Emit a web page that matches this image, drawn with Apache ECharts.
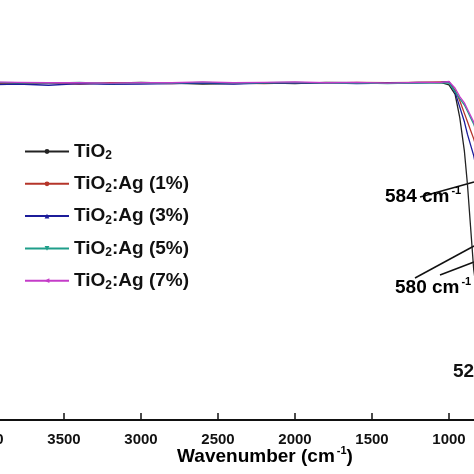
<!DOCTYPE html>
<html>
<head>
<meta charset="utf-8">
<script src="https://cdn.jsdelivr.net/npm/echarts@6/dist/echarts.min.js"></script>
<style>html,body{margin:0;padding:0;background:#fff;overflow:hidden;width:474px;height:474px}#chart{position:absolute;left:-13px;top:0;width:600px;height:474px}</style>
</head>
<body>
<div id="chart"></div>
<script>
// 波数 (cm-1)
const wavenumbers = [4000, 3800, 3600, 3400, 3200, 3000, 2800, 2600, 2400, 2200, 2000, 1800, 1600, 1400, 1200, 1050, 1000, 960, 930, 900, 880, 860, 840, 800, 700, 584]
const seriesNames = ['TiO2', 'TiO2:Ag (1%)', 'TiO2:Ag (3%)', 'TiO2:Ag (5%)', 'TiO2:Ag (7%)']
const tio2   = [80.2, 80.0, 80.3, 80.1, 80.2, 80.4, 80.2, 80.0, 80.1, 80.3, 80.1, 80.4, 80.3, 80.2, 80.4, 80.3, 79.8, 77.5, 72, 64, 56, 46, 36, 25, 15, 10]
const ag1    = [80.3, 80.1, 80.2, 80.0, 80.3, 80.2, 80.1, 80.3, 80.2, 80.1, 80.3, 80.2, 80.4, 80.3, 80.4, 80.5, 80.5, 78.5, 76, 73, 71, 69, 67, 62, 40, 20]
const ag3    = [79.8, 80.0, 79.7, 80.1, 79.9, 80.0, 80.1, 80.2, 80.0, 80.2, 80.2, 80.3, 80.1, 80.2, 80.3, 80.4, 80.5, 78, 74.5, 71, 68, 65.5, 63, 56, 35, 18]
const ag5    = [80.4, 80.3, 80.2, 80.4, 80.1, 80.2, 80.2, 80.4, 80.2, 80.3, 80.4, 80.2, 80.3, 80.1, 80.3, 80.3, 80.2, 78.2, 76.5, 75, 73.5, 72, 70.5, 66, 45, 25]
const ag7    = [80.5, 80.4, 80.3, 80.3, 80.2, 80.3, 80.3, 80.5, 80.3, 80.4, 80.5, 80.3, 80.4, 80.2, 80.4, 80.4, 80.6, 79, 77, 75.5, 74, 72.5, 71, 66.5, 46, 26]
const colors = ['#222222', '#b5352a', '#1c1c9a', '#1f9e8a', '#c43cc8']
const symbols = ['circle', 'circle', 'triangle', 'path://M0,0 L10,0 L5,10 Z', 'path://M0,5 L10,0 L10,10 Z']

let chart = echarts.init(document.getElementById('chart'))
let allData = [tio2, ag1, ag3, ag5, ag7]

let txt = {
    n: {fontFamily: 'Arial', fontWeight: 'bold', fontSize: 19, color: '#111'},
    sup: {fontFamily: 'Arial', fontWeight: 'bold', fontSize: 11, color: '#111', verticalAlign: 'top', padding: [0, 0, 12, 2]}
}
// 页面坐标 -> 图表坐标 (div 偏移 13px)
let px = x => x + 13

let option = {
    animation: false,
    grid: {left: 0, right: 61, top: 0, bottom: 54, outerBoundsMode: 'none', containLabel: false},
    legend: {
        orient: 'vertical',
        left: px(19), top: 137,
        itemGap: 12.3,
        itemWidth: 44, itemHeight: 6,
        data: seriesNames,
        formatter: name => name.replace('TiO2', '{t|TiO}{s|2}'),
        textStyle: {
            rich: {
                t: {fontFamily: 'Arial', fontWeight: 'bold', fontSize: 19, color: '#111'},
                s: {fontFamily: 'Arial', fontWeight: 'bold', fontSize: 12, color: '#111', verticalAlign: 'bottom', padding: [9, 0, 0, 0]}
            },
            fontFamily: 'Arial', fontWeight: 'bold', fontSize: 19, color: '#111'
        }
    },
    xAxis: {
        type: 'value', inverse: true, min: 500, max: 4000, interval: 500,
        axisLine: {lineStyle: {color: '#111', width: 2}},
        axisTick: {inside: true, length: 7, lineStyle: {width: 1.5}},
        splitLine: {show: false},
        axisLabel: {fontFamily: 'Arial', fontWeight: 'bold', fontSize: 15, color: '#111', margin: 12, formatter: v => String(v)}
    },
    yAxis: {type: 'value', min: 0, max: 100, show: false},
    series: allData.map((d, i) => ({
        name: seriesNames[i],
        type: 'line',
        data: wavenumbers.map((w, j) => [w, d[j]]),
        showSymbol: false,
        symbol: symbols[i],
        symbolSize: 6,
        color: colors[i],
        lineStyle: {width: 1.3}
    })),
    graphic: [
        {type: 'text', x: px(265), y: 457, style: {text: '{n|Wavenumber (cm}{sup|-1}{n|)}', rich: txt, align: 'center', verticalAlign: 'middle'}},
        {type: 'line', shape: {x1: px(420), y1: 197, x2: px(474), y2: 182}, style: {stroke: '#111', lineWidth: 1.5}},
        {type: 'text', x: px(385), y: 185, style: {text: '{n|584 cm}{sup|-1}', rich: txt}},
        {type: 'line', shape: {x1: px(415), y1: 278, x2: px(474), y2: 246}, style: {stroke: '#111', lineWidth: 1.5}},
        {type: 'line', shape: {x1: px(440), y1: 275, x2: px(474), y2: 262}, style: {stroke: '#111', lineWidth: 1.5}},
        {type: 'text', x: px(395), y: 276, style: {text: '{n|580 cm}{sup|-1}', rich: txt}},
        {type: 'text', x: px(453), y: 362, style: {text: '52', font: 'bold 19px Arial', fill: '#111'}}
    ]
}
chart.setOption(option)
</script>
</body>
</html>
